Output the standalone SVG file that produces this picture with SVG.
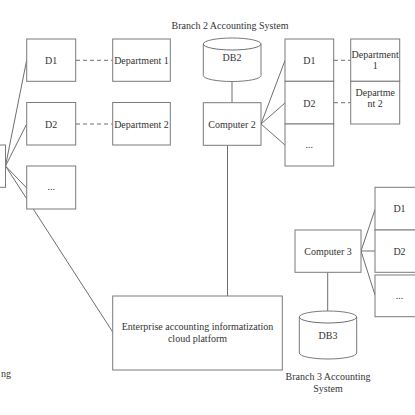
<svg xmlns="http://www.w3.org/2000/svg" width="415" height="415" viewBox="0 0 415 415">
<style>
  .box{fill:#fff;stroke:#7a7a7a;stroke-width:1}
  .ln{fill:none;stroke:#6e6e6e;stroke-width:1}
  .dash{fill:none;stroke:#6e6e6e;stroke-width:1;stroke-dasharray:4 3}
  text{font-family:"Liberation Serif","Times New Roman",serif;font-size:10px;fill:#333;text-anchor:middle}
</style>
<rect width="415" height="415" fill="#fff"/>
<g id="connectors">
  <line class="ln" x1="5.5" y1="166" x2="26.7" y2="60"/>
  <line class="ln" x1="5.5" y1="166" x2="26.7" y2="124"/>
  <line class="ln" x1="5.5" y1="166" x2="26.7" y2="188"/>
  <line class="ln" x1="5.5" y1="166" x2="112.7" y2="332"/>
  <line class="dash" x1="76" y1="60.3" x2="112.7" y2="60.3"/>
  <line class="dash" x1="76" y1="124" x2="112.7" y2="124"/>
  <line class="ln" x1="232" y1="81.5" x2="232" y2="102.7"/>
  <line class="ln" x1="227.5" y1="145.3" x2="227.5" y2="296"/>
  <line class="ln" x1="261" y1="124" x2="285" y2="60.5"/>
  <line class="ln" x1="261" y1="124" x2="285" y2="103"/>
  <line class="ln" x1="261" y1="124" x2="285" y2="145"/>
  <line class="dash" x1="334" y1="60.3" x2="350.7" y2="60.3"/>
  <line class="dash" x1="334" y1="102.7" x2="350.7" y2="102.7"/>
  <line class="ln" x1="361" y1="251" x2="375" y2="209.5"/>
  <line class="ln" x1="361" y1="251" x2="375" y2="251"/>
  <line class="ln" x1="361" y1="251" x2="375" y2="295"/>
  <line class="ln" x1="327.7" y1="272.3" x2="327.7" y2="311"/>
</g>
<g id="computer1"><rect class="box" x="-5" y="145" width="10.5" height="42.3"/></g>
<g id="branch1-label"><text x="11" y="376.5" style="text-anchor:end">ng</text></g>
<g id="b1-d1"><rect class="box" x="26.7" y="39" width="49" height="42.3"/><text x="51.2" y="63.8">D1</text></g>
<g id="b1-d2"><rect class="box" x="26.7" y="102.5" width="49" height="42.5"/><text x="51.2" y="127.5">D2</text></g>
<g id="b1-more"><rect class="box" x="26.7" y="166" width="49" height="43"/><text x="51.2" y="190">...</text></g>
<g id="dept1"><rect class="box" x="112.7" y="39" width="57.6" height="42.3"/><text x="141.5" y="63.8">Department 1</text></g>
<g id="dept2"><rect class="box" x="112.7" y="102.5" width="57.6" height="42.5"/><text x="141.5" y="127.5">Department 2</text></g>
<g id="branch2-label"><text x="230" y="28.5">Branch 2 Accounting System</text></g>
<g id="db2">
  <path class="box" d="M203.3,44 A28.85,6 0 0 1 261,44 L261,75.5 A28.85,6 0 0 1 203.3,75.5 Z"/>
  <path class="ln" d="M203.3,44 A28.85,6 0 0 0 261,44"/>
  <text x="232" y="60.5">DB2</text>
</g>
<g id="computer2"><rect class="box" x="203.3" y="102.7" width="57.7" height="42.6"/><text x="232" y="127.5">Computer 2</text></g>
<g id="b2-d1"><rect class="box" x="285" y="39" width="48.7" height="42.3"/><text x="309.3" y="63.8">D1</text></g>
<g id="b2-d2"><rect class="box" x="285" y="81.3" width="48.7" height="42.7"/><text x="309.3" y="106.5">D2</text></g>
<g id="b2-more"><rect class="box" x="285" y="124" width="48.7" height="42"/><text x="309.3" y="148">...</text></g>
<g id="b2-dept1"><rect class="box" x="350.7" y="39" width="49" height="42.3"/><text x="375.2" y="57.5">Department</text><text x="375.2" y="68.5">1</text></g>
<g id="b2-dept2"><rect class="box" x="350.7" y="81.3" width="49" height="42.7"/><text x="375.2" y="95.5">Departme</text><text x="375.2" y="106.5">nt 2</text></g>
<g id="platform"><rect class="box" x="112.7" y="296" width="169.6" height="74"/><text x="197.5" y="330">Enterprise accounting informatization</text><text x="197.5" y="341.5">cloud platform</text></g>
<g id="computer3"><rect class="box" x="295" y="230" width="66" height="42.3"/><text x="328" y="254.5">Computer 3</text></g>
<g id="b3-d1"><rect class="box" x="375" y="187.3" width="49" height="42.7"/><text x="399.5" y="212">D1</text></g>
<g id="b3-d2"><rect class="box" x="375" y="230" width="49" height="42.3"/><text x="399.5" y="254.5">D2</text></g>
<g id="b3-more"><rect class="box" x="375" y="275" width="49" height="41.7"/><text x="399.5" y="299">...</text></g>
<g id="db3">
  <path class="box" d="M299.3,317 A28.7,6 0 0 1 356.7,317 L356.7,353 A28.7,6 0 0 1 299.3,353 Z"/>
  <path class="ln" d="M299.3,317 A28.7,6 0 0 0 356.7,317"/>
  <text x="328" y="338.5">DB3</text>
</g>
<g id="branch3-label"><text x="328" y="380">Branch 3 Accounting</text><text x="328" y="391.5">System</text></g>
</svg>
